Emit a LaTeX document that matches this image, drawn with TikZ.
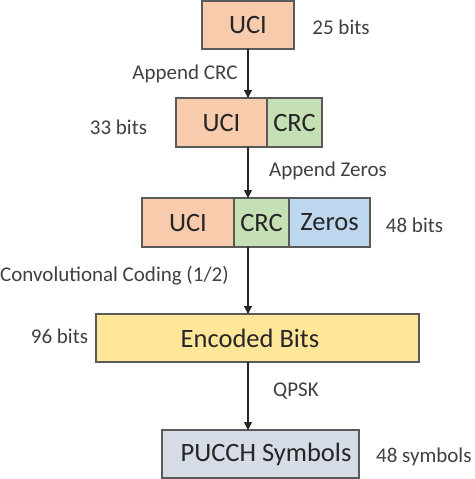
\documentclass[tikz,border=0pt]{standalone}
\usepackage{fontspec}
\setmainfont{Carlito}
\usetikzlibrary{arrows.meta}
\definecolor{ucic}{HTML}{F8CBAD}
\definecolor{crcc}{HTML}{C5E0B4}
\definecolor{zeroc}{HTML}{BDD7EE}
\definecolor{encc}{HTML}{FFE699}
\definecolor{pucc}{HTML}{D6DCE5}
\definecolor{edgec}{HTML}{5A5A5A}
\definecolor{boxtxt}{HTML}{262626}
\definecolor{labtxt}{HTML}{404040}
\tikzset{
  cell/.style={draw=edgec, line width=1.4pt, inner sep=0pt, outer sep=0pt,
    text=boxtxt, font=\fontsize{26.5}{28}\selectfont},
  lab/.style={text=labtxt, font=\fontsize{21}{23}\selectfont, inner sep=0pt},
  arr/.style={draw=black!85, line width=1.1pt, -{Triangle[length=8pt,width=8pt]}}
}
\begin{document}
\begin{tikzpicture}[x=1pt,y=-1pt]
\useasboundingbox (0,0) rectangle (474,479);
% box 1
\node[cell, fill=ucic, minimum width=92pt, minimum height=48pt] (u1) at (248,25) {UCI};
% box 2
\node[cell, fill=ucic, minimum width=91pt, minimum height=49pt] (u2) at (221.5,122.5) {UCI};
\node[cell, fill=crcc, minimum width=55pt, minimum height=49pt] (c2) at (294.5,122.5) {CRC};
% box 3
\node[cell, fill=ucic, minimum width=92pt, minimum height=49pt] (u3) at (188,222.5) {UCI};
\node[cell, fill=crcc, minimum width=55pt, minimum height=49pt] (c3) at (261.5,222.5) {CRC};
\node[cell, fill=zeroc, minimum width=81pt, minimum height=49pt] (z3) at (329.5,222.5) {Zeros};
% box 4
\node[cell, fill=encc, minimum width=323pt, minimum height=48pt] (enc) at (257.5,338) {};
\node[text=boxtxt, font=\fontsize{26.5}{28}\selectfont, inner sep=0pt] (enct) at (250,338) {Encoded Bits};
% box 5
\node[cell, fill=pucc, minimum width=197pt, minimum height=48pt] (pu) at (260.5,454) {};
\node[text=boxtxt, font=\fontsize{26.5}{28}\selectfont, inner sep=0pt] (put) at (266,454) {PUCCH Symbols};
% arrows
\coordinate (ax) at (248,0);
\draw[arr] (u1.south) -- (u1.south |- u2.north);
\draw[arr] (ax |- u2.south) -- (ax |- c3.north);
\draw[arr] (ax |- c3.south) -- (ax |- enc.north);
\draw[arr] (ax |- enc.south) -- (ax |- pu.north);
% labels
\node[lab] (l25) at (341,27) {25 bits};
\node[lab] (lac) at (185,74) {Append CRC};
\node[lab] (l33) at (118.5,127) {33 bits};
\node[lab] (laz) at (328,171) {Append Zeros};
\node[lab] (l48) at (414.5,225) {48 bits};
\node[lab, anchor=west] (lcc) at (0,276) {Convolutional Coding (1/2)};
\node[lab] (l96) at (59.5,336) {96 bits};
\node[lab] (lq) at (296,391) {QPSK};
\node[lab, anchor=west] (l48s) at (376,457) {48 symbols};
\end{tikzpicture}
\end{document}
